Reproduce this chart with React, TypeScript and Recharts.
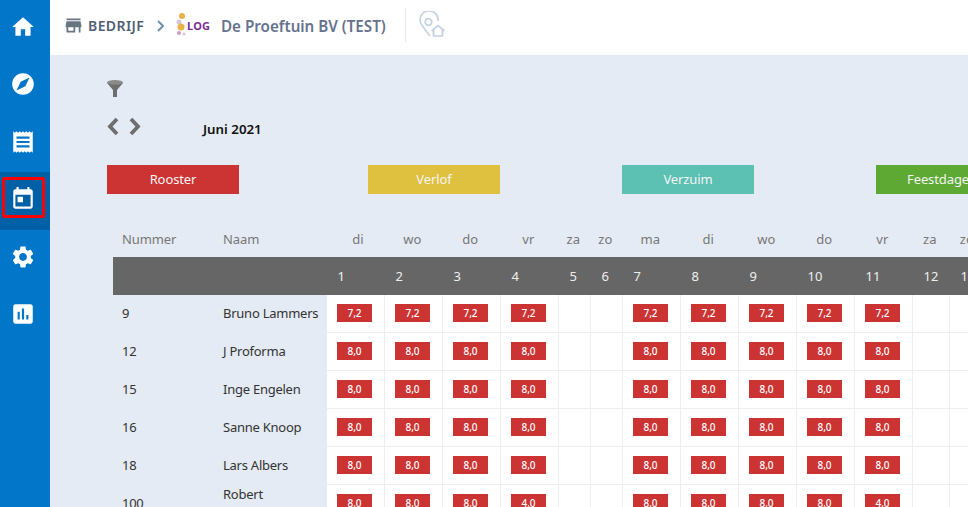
import { CartesianGrid, Scatter, ScatterChart, XAxis, YAxis, ZAxis } from "recharts"

const weekdays = ["di", "wo", "do", "vr", "za", "zo", "ma", "di", "wo", "do", "vr", "za", "zo"]
const dayNumbers = [1, 2, 3, 4, 5, 6, 7, 8, 9, 10, 11, 12, 13]
const employeeNumbers = ["9", "12", "15", "16", "18", "100"]
const employeeNames = ["Bruno Lammers", "J Proforma", "Inge Engelen", "Sanne Knoop", "Lars Albers", "Robert"]
const brunoHours = [7.2, 7.2, 7.2, 7.2, null, null, 7.2, 7.2, 7.2, 7.2, 7.2, null, null]
const proformaHours = [8, 8, 8, 8, null, null, 8, 8, 8, 8, 8, null, null]
const ingeHours = [8, 8, 8, 8, null, null, 8, 8, 8, 8, 8, null, null]
const sanneHours = [8, 8, 8, 8, null, null, 8, 8, 8, 8, 8, null, null]
const larsHours = [8, 8, 8, 8, null, null, 8, 8, 8, 8, 8, null, null]
const robertHours = [8, 8, 8, 4, null, null, 8, 8, 8, 8, 4, null, null]
const hoursByEmployee = [brunoHours, proformaHours, ingeHours, sanneHours, larsHours, robertHours]
const legendNames = ["Rooster", "Verlof", "Verzuim", "Feestdagen"]
const legendColors = ["#cc3333", "#e0c03f", "#5cc0b3", "#5da933"]
const legendLefts = [107, 368, 622, 876]

const FONT = "'Noto Sans', sans-serif"
const ROW_HEIGHT = 38

// columns are not even: weekend days are narrow, two digit ones a bit wider
const colWidths = weekdays.map((d, i) => (d === "za" || d === "zo" ? (dayNumbers[i] > 9 ? 37 : 32) : 58))
const colEdges = colWidths.map((_, i) => colWidths.slice(0, i).reduce((a, b) => a + b, 0))
const colCenters = colWidths.map((w, i) => colEdges[i] + w / 2)
const totalWidth = colWidths.reduce((a, b) => a + b, 0)

const cells = hoursByEmployee.flatMap((row, r) =>
  row.flatMap((hours, c) => (hours === null ? [] : [{ slot: colCenters[c], name: employeeNames[r], hours }]))
)

function HourCell({ cx, cy, payload }: any) {
  return (
    <g>
      <rect x={cx - 19} y={cy - 10} width={35} height={18} fill="#cc3333" />
      <text x={cx - 1.5} y={cy + 2.5} textAnchor="middle" fill="#fff" fontSize={10} fontWeight={500} fontFamily={FONT}>
        {payload.hours.toFixed(1).replace(".", ",")}
      </text>
    </g>
  )
}

function DayTick({ x, index }: any) {
  // the very first label sits a bit right of its cell in the reference
  const shift = index === 0 ? 2 : -1.7
  return (
    <g fontFamily={FONT} fontSize={13}>
      <text x={x + shift} y={244} textAnchor="middle" fill="#777">
        {weekdays[index]}
      </text>
      <text x={x - colWidths[index] / 2 + 10.5} y={281} fill="#eee">
        {dayNumbers[index]}
      </text>
    </g>
  )
}

function EmployeeTick({ y, index }: any) {
  const isLast = index === employeeNames.length - 1
  return (
    <g fontFamily={FONT} fontSize={13} fill="#333" letterSpacing={-0.25}>
      <text x={122} y={y + 4}>
        {employeeNumbers[index]}
      </text>
      <text x={223} y={isLast ? y - 5 : y + 4}>
        {employeeNames[index]}
      </text>
    </g>
  )
}

const Icon = ({ d, x, y, size = 26, color = "#fff" }: any) => (
  <svg style={{ position: "absolute", left: x - size / 2, top: y - size / 2 }} width={size} height={size} viewBox="0 0 24 24">
    <path d={d} fill={color} />
  </svg>
)

const label = (text: string, left: number, top: number, style: any = {}) => (
  <div style={{ position: "absolute", left, top, lineHeight: "20px", whiteSpace: "nowrap", fontSize: 13, ...style }}>{text}</div>
)

export default function App() {
  return (
    <div style={{ position: "absolute", left: 0, top: 0, width: 968, height: 507, overflow: "hidden", background: "#e4ebf4", fontFamily: FONT }}>
      <div style={{ position: "absolute", left: 0, top: 0, width: 968, height: 55, background: "#fff" }} />
      <div style={{ position: "absolute", left: 0, top: 0, width: 50, height: 507, background: "#0277c9" }} />
      <div style={{ position: "absolute", left: 0, top: 172, width: 50, height: 58, background: "#0060a6" }} />
      <div style={{ position: "absolute", left: 2, top: 177, width: 37, height: 35, border: "3.5px solid #f00", borderRadius: 2 }} />

      <Icon x={22.5} y={27} d="M10 20v-6h4v6h5v-8h3L12 3 2 12h3v8z" />
      <Icon x={22.5} y={84} d="M12 2C6.48 2 2 6.48 2 12s4.48 10 10 10 10-4.48 10-10S17.52 2 12 2zm2.19 12.19L6 18l3.81-8.19L18 6l-3.81 8.19z" />
      <Icon x={22.5} y={142} d="M18 17H6v-2h12v2zm0-4H6v-2h12v2zm0-4H6V7h12v2zM3 22l1.5-1.5L6 22l1.5-1.5L9 22l1.5-1.5L12 22l1.5-1.5L15 22l1.5-1.5L18 22l1.5-1.5L21 22V2l-1.5 1.5L18 2l-1.5 1.5L15 2l-1.5 1.5L12 2l-1.5 1.5L9 2 7.5 3.5 6 2 4.5 3.5 3 2v20z" />
      <Icon x={22.5} y={199} d="M19 3h-1V1h-2v2H8V1H6v2H5c-1.11 0-1.99.9-1.99 2L3 19c0 1.1.89 2 2 2h14c1.1 0 2-.9 2-2V5c0-1.1-.9-2-2-2zm0 16H5V8h14v11zM7 10h5v5H7z" />
      <Icon x={22.5} y={257} d="M19.14 12.94c.04-.3.06-.61.06-.94 0-.32-.02-.64-.07-.94l2.03-1.58c.18-.14.23-.41.12-.61l-1.92-3.32c-.12-.22-.37-.29-.59-.22l-2.39.96c-.5-.38-1.03-.7-1.62-.94l-.36-2.54c-.04-.24-.24-.41-.48-.41h-3.84c-.24 0-.43.17-.47.41l-.36 2.54c-.59.24-1.13.57-1.62.94l-2.39-.96c-.22-.08-.47 0-.59.22L2.74 8.87c-.12.21-.08.47.12.61l2.03 1.58c-.05.3-.09.63-.09.94s.02.64.07.94l-2.03 1.58c-.18.14-.23.41-.12.61l1.92 3.32c.12.22.37.29.59.22l2.39-.96c.5.38 1.03.7 1.62.94l.36 2.54c.05.24.24.41.48.41h3.84c.24 0 .44-.17.47-.41l.36-2.54c.59-.24 1.13-.56 1.62-.94l2.39.96c.22.08.47 0 .59-.22l1.92-3.32c.12-.22.07-.47-.12-.61l-2.01-1.58zM12 15.6c-1.98 0-3.6-1.62-3.6-3.6s1.62-3.6 3.6-3.6 3.6 1.62 3.6 3.6-1.62 3.6-3.6 3.6z" />
      <Icon x={22.5} y={314} d="M19 3H5c-1.1 0-2 .9-2 2v14c0 1.1.9 2 2 2h14c1.1 0 2-.9 2-2V5c0-1.1-.9-2-2-2zM9 17H7v-7h2v7zm4 0h-2V7h2v10zm4 0h-2v-4h2v4z" />

      <Icon x={73} y={25} size={21} color="#6a7583" d="M20 4H4v2h16V4zm1 10v-2l-1-5H4l-1 5v2h1v6h10v-6h4v6h2v-6h1zm-9 4H6v-4h6v4z" />
      {label("BEDRIJF", 88, 16, { fontWeight: 600, fontSize: 14, letterSpacing: 0.4, color: "#4f5f76" })}
      <svg style={{ position: "absolute", left: 155, top: 18 }} width={12} height={16}>
        <polyline points="3,3 8,8 3,13" fill="none" stroke="#6f8fa8" strokeWidth={2} />
      </svg>
      <svg style={{ position: "absolute", left: 175, top: 11 }} width={14} height={26}>
        <circle cx={7} cy={5} r={3} fill="#eab04a" />
        <circle cx={4} cy={11} r={2.5} fill="#d8c4dc" />
        <circle cx={6} cy={16} r={3.5} fill="#eab04a" />
        <circle cx={4} cy={22} r={2} fill="#c9a0c0" />
        <circle cx={9} cy={23} r={1.5} fill="#d8c4dc" />
      </svg>
      {label("LOG", 187, 15, { fontWeight: 700, fontSize: 11, letterSpacing: 0.2, color: "#7a2f96", lineHeight: "22px" })}
      {label("De Proeftuin BV (TEST)", 221, 16, { fontWeight: 600, fontSize: 15.2, color: "#65728f" })}
      <div style={{ position: "absolute", left: 405, top: 8, width: 1, height: 34, background: "#e5e9ef" }} />
      <svg style={{ position: "absolute", left: 418, top: 11 }} width={28} height={28} fill="none" stroke="#c4d2e2" strokeWidth={1.7}>
        <path d="M12 25 L4.5 15 A9 9 0 1 1 20 10" />
        <circle cx={10.5} cy={11} r={3.3} />
        <path d="M13.5 20 L20 14.5 L26.5 20 M15.5 19 V25 H24.5 V19" />
      </svg>

      <svg style={{ position: "absolute", left: 106, top: 79 }} width={18} height={20}>
        <ellipse cx={9} cy={3.5} rx={8} ry={2.5} fill="#8a8a8a" />
        <path d="M1 4 Q9 7 17 4 L11 11 V18 H7 V11 Z" fill="#6e6e6e" />
      </svg>
      <svg style={{ position: "absolute", left: 106, top: 117 }} width={36} height={20} fill="none" stroke="#6e6e6e" strokeWidth={3.8}>
        <polyline points="11,2 4,9.5 11,17" />
        <polyline points="25,2 32,9.5 25,17" />
      </svg>
      {label("Juni 2021", 203, 119, { fontWeight: 600, fontSize: 13.3, color: "#111" })}

      {legendNames.map((name, i) => (
        <div
          key={name}
          style={{
            position: "absolute",
            left: legendLefts[i],
            top: 165,
            width: 132,
            height: 29,
            lineHeight: "29px",
            textAlign: "center",
            background: legendColors[i],
            color: "#f4f4f4",
            fontSize: 13,
            letterSpacing: -0.1,
          }}
        >
          {name}
        </div>
      ))}

      {label("Nummer", 122, 229, { color: "#777", letterSpacing: -0.1 })}
      {label("Naam", 223, 229, { color: "#777", letterSpacing: -0.1 })}
      <div style={{ position: "absolute", left: 113, top: 257, width: 855, height: 38, background: "#666" }} />

      <div style={{ position: "absolute", left: 0, top: 0 }}>
        <ScatterChart
          width={1000}
          height={540}
          margin={{ top: 230, right: 13, bottom: 17, left: 0 }}
        >
          <CartesianGrid
            fill="#fff"
            stroke="#eeeeee"
            strokeWidth={1}
            syncWithTicks={false}
            verticalCoordinatesGenerator={({ offset }: any) => colEdges.slice(1).map((e) => offset.left + e - 0.5)}
            horizontalCoordinatesGenerator={({ offset }: any) => employeeNames.slice(1).map((_, i) => offset.top + (i + 1) * ROW_HEIGHT - 0.5)}
          />
          <XAxis
            type="number"
            dataKey="slot"
            orientation="top"
            height={65}
            domain={[0, totalWidth]}
            ticks={colCenters}
            interval={0}
            axisLine={false}
            tickLine={false}
            tick={<DayTick />}
          />
          <YAxis
            type="category"
            dataKey="name"
            width={327}
            reversed
            allowDuplicatedCategory={false}
            interval={0}
            axisLine={false}
            tickLine={false}
            tick={<EmployeeTick />}
          />
          <ZAxis range={[100, 100]} />
          <Scatter data={cells} shape={<HourCell />} isAnimationActive={false} />
        </ScatterChart>
      </div>
    </div>
  )
}
